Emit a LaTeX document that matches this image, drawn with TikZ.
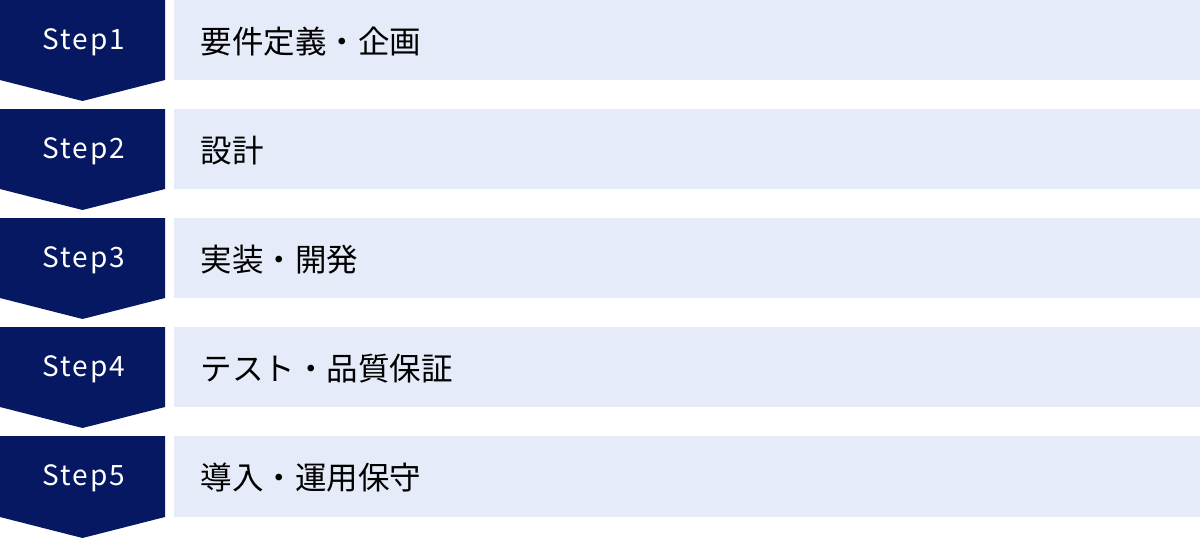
\documentclass[tikz,border=0pt]{standalone}
\usepackage{fontspec}
\setmainfont{Noto Sans CJK JP}
\newfontfamily\stepfont[LetterSpace=7]{Noto Sans CJK JP}
\usepackage{tikz}
\usepackage{xcolor}
\definecolor{stepnavy}{HTML}{061862}
\definecolor{tasklight}{HTML}{E5EBF8}

\begin{document}
\begin{tikzpicture}[x=1pt,y=-1pt]
\useasboundingbox (0,0) rectangle (1200,538);
\tikzset{steplabel/.style={text=white,font=\stepfont\fontsize{28}{30}\selectfont},
  tasklabel/.style={anchor=west,text=black,font=\fontsize{31.5}{34}\selectfont}}
\fill[stepnavy] (0,0) -- (165,0) -- (165,80) -- (82.5,101) -- (0,80) -- cycle;
\fill[tasklight] (174,0) rectangle (1200,80);
\node[steplabel] (step1) at (84,42) {Step1};
\node[tasklabel] (task1) at (197,42) {要件定義・企画};
\fill[stepnavy] (0,109) -- (165,109) -- (165,189) -- (82.5,210) -- (0,189) -- cycle;
\fill[tasklight] (174,109) rectangle (1200,189);
\node[steplabel] (step2) at (84,151) {Step2};
\node[tasklabel] (task2) at (197,151) {設計};
\fill[stepnavy] (0,218) -- (165,218) -- (165,298) -- (82.5,319) -- (0,298) -- cycle;
\fill[tasklight] (174,218) rectangle (1200,298);
\node[steplabel] (step3) at (84,260) {Step3};
\node[tasklabel] (task3) at (197,260) {実装・開発};
\fill[stepnavy] (0,327) -- (165,327) -- (165,407) -- (82.5,428) -- (0,407) -- cycle;
\fill[tasklight] (174,327) rectangle (1200,407);
\node[steplabel] (step4) at (84,369) {Step4};
\node[tasklabel] (task4) at (197,369) {テスト・品質保証};
\fill[stepnavy] (0,436) -- (165,436) -- (165,517) -- (82.5,538) -- (0,517) -- cycle;
\fill[tasklight] (174,436) rectangle (1200,517);
\node[steplabel] (step5) at (84,478) {Step5};
\node[tasklabel] (task5) at (197,478) {導入・運用保守};
\end{tikzpicture}
\end{document}
